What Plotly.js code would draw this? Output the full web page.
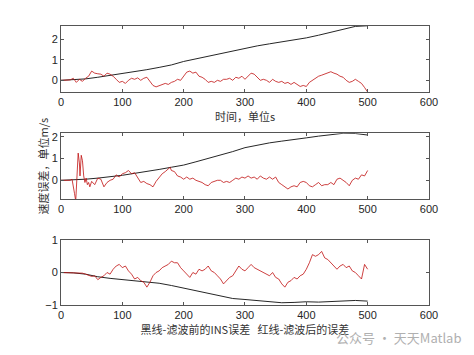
<!DOCTYPE html>
<html><head><meta charset="utf-8">
<script src="https://cdn.plot.ly/plotly-3.0.1.min.js"></script>
<style>html,body{margin:0;padding:0;background:#fff}#c{width:474px;height:355px}</style>
</head><body><div id="c"></div>
<script>
const tBlack = [0,20,40,60,80,100,120,140,160,180,200,220,240,260,280,300,320,340,360,380,400,420,440,460,480,500];
const tRed = [0,5,10,15,20,25,30,35,40,45,50,55,60,65,70,75,80,85,90,95,100,105,110,115,120,125,130,135,140,145,150,155,160,165,170,175,180,185,190,195,200,205,210,215,220,225,230,235,240,245,250,255,260,265,270,275,280,285,290,295,300,305,310,315,320,325,330,335,340,345,350,355,360,365,370,375,380,385,390,395,400,405,410,415,420,425,430,435,440,445,450,455,460,465,470,475,480,485,490,495,500];
const tRed2 = [0,5,10,15,18,20,22,24,26,28,30,31,33,35,37,39,41,43,45,47,50,55,60,65,70,75,80,85,90,95,100,105,110,115,120,125,130,135,140,145,150,155,160,165,170,175,178,180,185,190,195,200,205,210,215,220,225,230,235,240,245,250,255,260,265,270,275,280,285,290,295,300,305,310,315,320,325,330,335,340,345,350,355,360,365,370,375,380,385,390,395,400,405,410,415,420,425,430,435,440,445,450,455,460,465,470,475,480,485,490,495,500];

const black1 = [0,0.03,0.07,0.15,0.24,0.32,0.4,0.52,0.63,0.75,0.92,1.05,1.18,1.32,1.45,1.57,1.68,1.78,1.88,1.96,2.07,2.2,2.35,2.5,2.63,2.66];
const red1 = [0,0,0,0.02,0.1,-0.1,0.05,-0.05,0.1,0.2,0.45,0.35,0.32,0.3,0.2,0.35,0.3,0.2,0.05,-0.1,-0.05,-0.15,0,0.1,0.05,0.12,0,0.1,0.15,-0.05,-0.25,-0.32,-0.25,-0.2,-0.15,-0.2,-0.1,-0.05,0.05,0,0.2,0.4,0.45,0.35,0.4,0.2,0.15,0.05,-0.1,-0.05,-0.1,0,-0.05,0.05,0.05,0.1,0,0.15,0.1,0.2,0.05,0.2,0.35,0.3,0.15,0,0.05,0,-0.1,0.05,-0.05,-0.1,-0.05,-0.15,-0.1,-0.2,-0.1,-0.2,-0.3,-0.25,-0.3,-0.1,0,0.1,0.2,0.25,0.3,0.35,0.42,0.35,0.3,0.2,0.15,0,-0.1,-0.05,0.05,-0.05,-0.15,-0.35,-0.57];

const black2 = [0,0.02,0.05,0.1,0.15,0.23,0.32,0.4,0.5,0.6,0.7,0.85,1.0,1.15,1.32,1.5,1.62,1.72,1.8,1.86,1.95,2.03,2.1,2.16,2.15,2.08];
const red2 = [0,0,0,0,0.05,-0.2,-0.6,-0.95,0.3,1.25,0.8,0.2,1.15,0.9,0.2,-0.1,0.1,-0.2,-0.1,-0.3,-0.05,-0.2,0.1,0.05,-0.3,-0.1,0,0.05,0.25,0.15,0.3,0.35,0.45,0.3,0.35,0.1,-0.1,-0.05,-0.15,-0.2,-0.3,-0.05,0.1,0.3,0.4,0.5,0.6,0.45,0.4,0.2,0.15,0.05,0.15,0.05,0.1,0,-0.05,-0.1,-0.2,-0.25,-0.1,-0.05,0,0,-0.1,-0.05,-0.1,0,0.1,0.05,0.15,0.1,0.2,0.1,0.15,0.05,0.2,0.1,0.05,0.15,0.05,0.15,-0.1,-0.2,-0.3,-0.4,-0.3,-0.25,-0.3,-0.1,-0.05,-0.1,-0.25,-0.3,-0.2,-0.1,-0.25,-0.2,-0.2,-0.1,-0.2,0.05,0.1,0,-0.1,-0.25,0,0.1,0.05,0.25,0.2,0.45];

const black3 = [0,-0.01,-0.05,-0.13,-0.18,-0.22,-0.25,-0.28,-0.33,-0.4,-0.48,-0.55,-0.63,-0.72,-0.8,-0.83,-0.86,-0.9,-0.93,-0.92,-0.9,-0.91,-0.9,-0.88,-0.86,-0.88];
const red3 = [0,0,0,0,0,0,0,-0.02,-0.05,-0.08,-0.12,-0.1,-0.22,-0.15,-0.1,0,-0.05,0.1,0.2,0.25,0.15,0.2,0.05,-0.05,-0.2,-0.15,-0.25,-0.3,-0.45,-0.3,-0.1,0,0.05,0.15,0.2,0.25,0.35,0.3,0.3,0.15,0.05,-0.05,-0.15,0,-0.05,0.1,0.05,0.1,0.2,0.05,0,-0.1,-0.2,-0.35,-0.25,-0.15,-0.1,0.05,0.2,0.1,0.05,0.15,0.25,0.15,0.1,0.05,0,-0.05,-0.1,0,-0.15,-0.2,-0.35,-0.45,-0.3,-0.25,-0.15,-0.2,-0.1,-0.05,0.1,0.3,0.55,0.5,0.55,0.65,0.45,0.4,0.3,0.2,0.1,0.2,0.25,0.15,0.2,0.05,0,-0.1,-0.2,0.25,0.1];

const xTicks = [0,100,200,300,400,500,600];
const xlabel1 = '时间，单位s';
const ylabel2 = '速度误差，单位m/s';
const xlabel3 = '黑线-滤波前的INS误差   红线-滤波后的误差';
const watermark = '公众号 · 天天Matlab';

const blackLine = {color:'#262626', width:1};
const redLine = {color:'#c01010', width:0.8};
const traces = [
  {x:tBlack, y:black1, xaxis:'x', yaxis:'y', mode:'lines', line:blackLine},
  {x:tRed, y:red1, xaxis:'x', yaxis:'y', mode:'lines', line:redLine},
  {x:tBlack, y:black2, xaxis:'x2', yaxis:'y2', mode:'lines', line:blackLine},
  {x:tRed2, y:red2, xaxis:'x2', yaxis:'y2', mode:'lines', line:redLine},
  {x:tBlack, y:black3, xaxis:'x3', yaxis:'y3', mode:'lines', line:blackLine},
  {x:tRed, y:red3, xaxis:'x3', yaxis:'y3', mode:'lines', line:redLine}
];
const tickFont = {family:'Liberation Sans, Arial, sans-serif', size:11, color:'#262626'};
function xa(anchor, title){
  return {domain:[0.1287,0.905], anchor:anchor, range:[0,600], tickvals:xTicks, ticks:'inside', ticklen:3,
    tickcolor:'#555', showline:true, linecolor:'#555', linewidth:1, mirror:'ticks', showgrid:false, zeroline:false,
    tickfont:tickFont, title:{text:title, font:{family:'Noto Sans CJK SC, sans-serif', size:11, color:'#333'}, standoff:2}};
}
function ya(anchor, dom, range, tv, title){
  return {domain:dom, anchor:anchor, range:range, tickvals:tv, ticks:'inside', ticklen:3,
    tickcolor:'#555', showline:true, linecolor:'#555', linewidth:1, mirror:'ticks', showgrid:false, zeroline:false,
    tickfont:tickFont, title:{text:title||'', font:{family:'Noto Sans CJK SC, sans-serif', size:11, color:'#333'}, standoff:0}};
}
const layout = {
  width:474, height:355, margin:{l:0,r:0,t:0,b:0}, paper_bgcolor:'#fff', plot_bgcolor:'#fff', showlegend:false,
  xaxis: xa('y', xlabel1),
  yaxis: ya('x', [0.7408,0.9268], [-0.57,2.65], [0,1,2]),
  xaxis2: xa('y2', ''),
  yaxis2: ya('x2', [0.4394,0.6245], [-0.86,2.16], [0,1,2], ylabel2),
  xaxis3: xa('y3', xlabel3),
  yaxis3: ya('x3', [0.1408,0.3239], [-1,1], [-1,0,1]),
  annotations:[{text:watermark, xref:'paper', yref:'paper', x:0.705, y:0.05, xanchor:'left', yanchor:'middle', showarrow:false,
    font:{family:'Noto Sans CJK SC, sans-serif', size:13, color:'#b0b0b0'}}]
};
Plotly.newPlot('c', traces, layout, {staticPlot:true, displayModeBar:false});
</script></body></html>
